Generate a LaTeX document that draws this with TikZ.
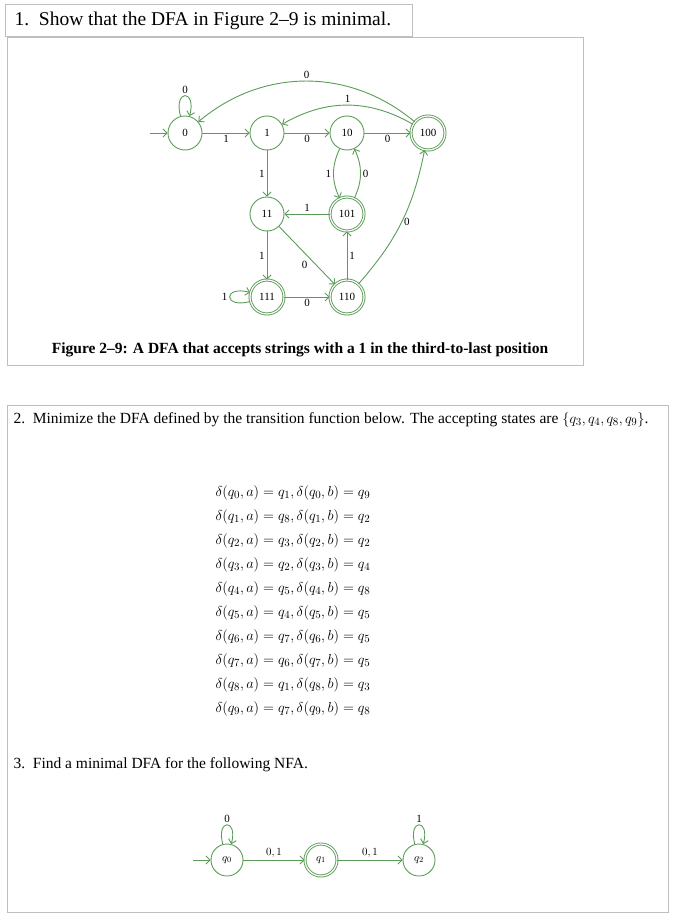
\documentclass[tikz,border=0pt]{standalone}
\usepackage{fontspec}
\setmainfont{Liberation Serif}
\usetikzlibrary{arrows.meta,automata}
\definecolor{gr}{RGB}{92,155,88}
\definecolor{bx}{RGB}{190,190,190}
\begin{document}
\begin{tikzpicture}[x=1pt,y=-1pt,
  st/.style={circle,draw=gr,line width=0.9pt,minimum size=34pt,inner sep=0pt,font=\fontsize{11}{12}\selectfont},
  acc/.style={st,double,double distance=1.2pt},
  ed/.style={draw=gr,line width=0.9pt,-{Straight Barb[length=4pt]}},
  lb/.style={font=\fontsize{11}{12}\selectfont,inner sep=2pt},
  box/.style={draw=bx,line width=1pt}]
\useasboundingbox (0,0) rectangle (689,923);
\draw[box] (5,5) rectangle (412,37);
\node[anchor=west,font=\fontsize{19.5}{21}\selectfont] (t1) at (11,21) {1.\ \ Show that the DFA in Figure 2–9 is minimal.};
\draw[box] (7,38) rectangle (583,365);
\node (n0) [st] at (185,133) {0};
\node (n1) [st] at (267,133) {1};
\node (n10) [st] at (347,133) {10};
\node (n100) [acc] at (428,133) {100};
\node (n11) [st] at (267,214) {11};
\node (n101) [acc] at (347,214) {101};
\node (n111) [acc] at (267,297) {111};
\node (n110) [acc] at (347,297) {110};
\coordinate (s0) at (150,133);
\draw[ed] (s0) -- (n0);
\draw[ed] (n0) to[loop above,looseness=8,min distance=12pt] node[lb,above]{0} (n0);
\draw[ed] (n0) -- node[lb,below]{1} (n1);
\draw[ed] (n1) -- node[lb,below]{0} (n10);
\draw[ed] (n10) -- node[lb,below]{0} (n100);
\draw[ed] (n100) to[bend right=40] node[lb,above]{0} (n0);
\draw[ed] (n100) to[bend right=30] node[lb,above]{1} (n1);
\draw[ed] (n1) -- node[lb,left]{1} (n11);
\draw[ed] (n10) to[bend right=25] node[lb,left]{1} (n101);
\draw[ed] (n101) to[bend right=25] node[lb,right]{0} (n10);
\draw[ed] (n101) -- node[lb,above]{1} (n11);
\draw[ed] (n11) -- node[lb,left]{1} (n111);
\draw[ed] (n11) -- node[lb,below left,pos=0.55]{0} (n110);
\draw[ed] (n111) -- node[lb,below]{0} (n110);
\draw[ed] (n110) -- node[lb,right]{1} (n101);
\draw[ed] (n110) to[bend right=15] node[lb,right]{0} (n100);
\draw[ed] (n111) to[loop left,looseness=8,min distance=12pt] node[lb,left]{1} (n111);
\node[font=\bfseries\fontsize{15.5}{17}\selectfont] (cap) at (300,350) {Figure 2–9: A DFA that accepts strings with a 1 in the third-to-last position};
\draw[box] (7,405) rectangle (668,912);
\node[anchor=west,font=\fontsize{15.5}{17}\selectfont] (t2) at (10,420) {2.\ \ Minimize the DFA defined by the transition function below. The accepting states are $\{q_3,q_4,q_8,q_9\}$.};
\node[anchor=north west,font=\fontsize{15}{24}\selectfont,align=left] (eq) at (212,482) {%
$\delta(q_0,a)=q_1,\delta(q_0,b)=q_9$\\
$\delta(q_1,a)=q_8,\delta(q_1,b)=q_2$\\
$\delta(q_2,a)=q_3,\delta(q_2,b)=q_2$\\
$\delta(q_3,a)=q_2,\delta(q_3,b)=q_4$\\
$\delta(q_4,a)=q_5,\delta(q_4,b)=q_8$\\
$\delta(q_5,a)=q_4,\delta(q_5,b)=q_5$\\
$\delta(q_6,a)=q_7,\delta(q_6,b)=q_5$\\
$\delta(q_7,a)=q_6,\delta(q_7,b)=q_5$\\
$\delta(q_8,a)=q_1,\delta(q_8,b)=q_3$\\
$\delta(q_9,a)=q_7,\delta(q_9,b)=q_8$};
\node[anchor=west,font=\fontsize{15.5}{17}\selectfont] (t3) at (10,765) {3.\ \ Find a minimal DFA for the following NFA.};
\node (q0) [st,minimum size=32pt] at (227,860) {$q_0$};
\node (q1) [acc,minimum size=32pt] at (321,860) {$q_1$};
\node (q2) [st,minimum size=32pt] at (419,860) {$q_2$};
\coordinate (sq) at (193,860);
\draw[ed] (sq) -- (q0);
\draw[ed] (q0) to[loop above,looseness=8,min distance=12pt] node[lb,above]{0} (q0);
\draw[ed] (q2) to[loop above,looseness=8,min distance=12pt] node[lb,above]{1} (q2);
\draw[ed] (q0) -- node[lb,above]{$0,1$} (q1);
\draw[ed] (q1) -- node[lb,above]{$0,1$} (q2);
\end{tikzpicture}
\end{document}
